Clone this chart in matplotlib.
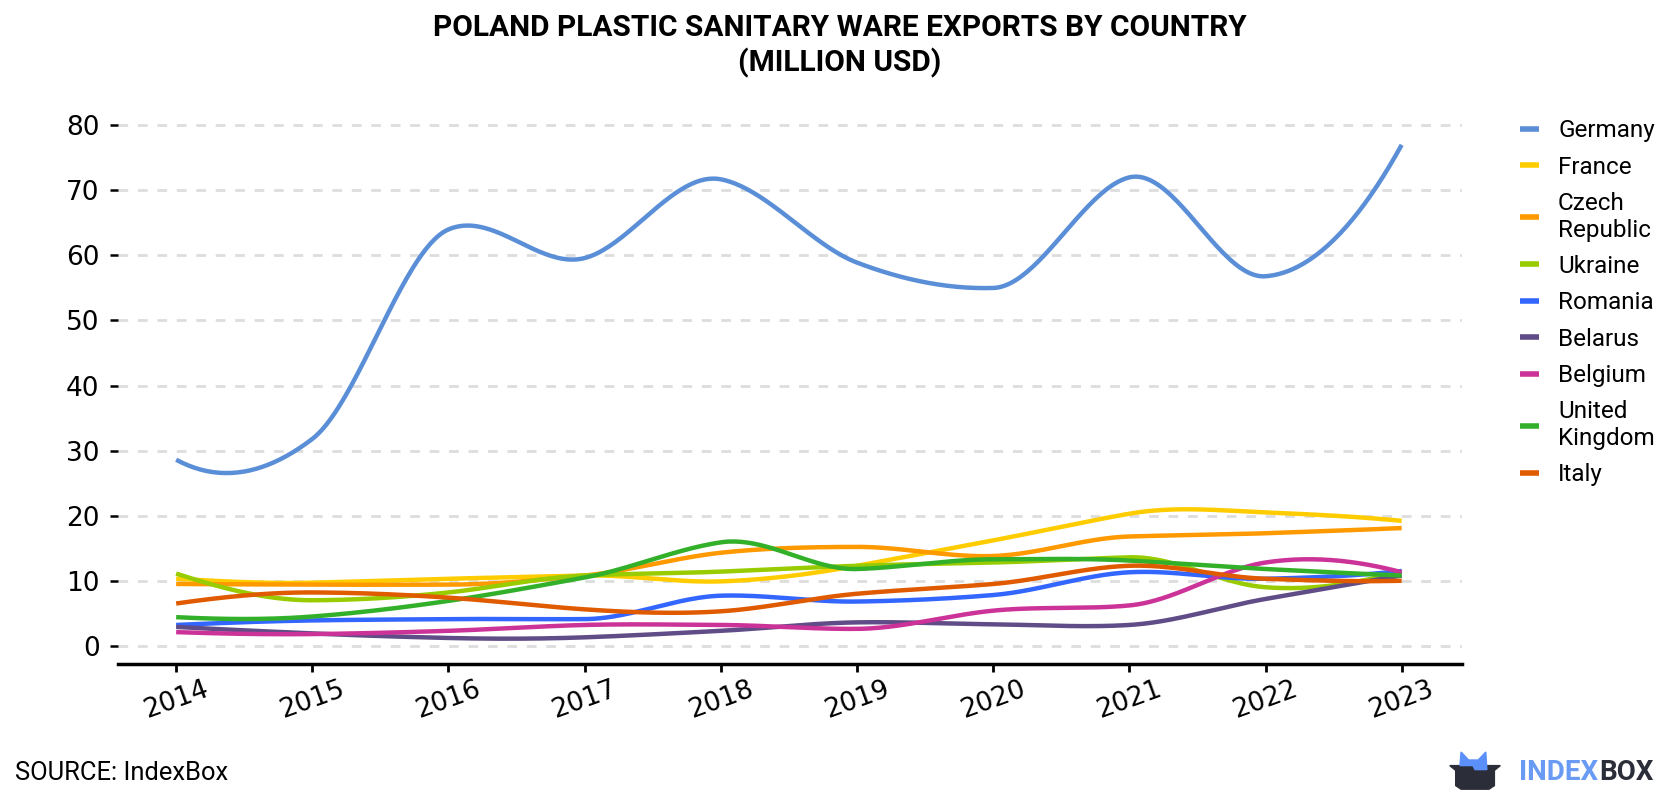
import matplotlib.pyplot as plt
import numpy as np
from matplotlib.patches import Polygon
from matplotlib.lines import Line2D

plt.rcParams['font.family'] = ['Roboto', 'DejaVu Sans']

# data (million USD)
years = [2014, 2015, 2016, 2017, 2018, 2019, 2020, 2021, 2022, 2023]
germany = [28.6, 31.8, 64.0, 59.6, 71.7, 58.9, 55.0, 72.0, 56.8, 77.0]
france = [10.3, 9.7, 10.3, 10.8, 9.9, 12.3, 16.2, 20.3, 20.5, 19.2]
czech = [9.5, 9.4, 9.4, 10.8, 14.3, 15.2, 13.8, 16.8, 17.3, 18.1]
ukraine = [11.1, 7.0, 8.2, 10.8, 11.4, 12.3, 12.8, 13.6, 9.0, 11.5]
romania = [3.2, 3.9, 4.1, 4.1, 7.7, 6.8, 7.8, 11.3, 10.3, 11.5]
belarus = [2.9, 1.9, 1.2, 1.3, 2.3, 3.6, 3.3, 3.2, 7.2, 10.8]
belgium = [2.1, 1.8, 2.3, 3.2, 3.2, 2.6, 5.4, 6.2, 12.8, 11.3]
uk = [4.4, 4.5, 6.9, 10.5, 15.9, 11.8, 13.3, 13.1, 11.8, 10.8]
italy = [6.5, 8.2, 7.4, 5.6, 5.3, 8.0, 9.5, 12.3, 10.3, 10.0]

names = ["Germany", "France", "Czech\nRepublic", "Ukraine", "Romania",
         "Belarus", "Belgium", "United\nKingdom", "Italy"]
series = [germany, france, czech, ukraine, romania, belarus, belgium, uk, italy]
colors = ["#5a8fd8", "#ffcc00", "#ff9900", "#99cc00", "#3366ff",
          "#604c86", "#cc3399", "#33b02a", "#e05a00"]


def smooth(xs, ys, num=400):
    # Akima spline through the yearly points, used only to draw the line
    x = np.asarray(xs, float)
    y = np.asarray(ys, float)
    n = len(x)
    h = np.diff(x)
    m = np.diff(y) / h
    mm = np.empty(n + 3)
    mm[2:n + 1] = m
    mm[1] = 2 * m[0] - m[1]
    mm[0] = 2 * mm[1] - m[0]
    mm[n + 1] = 2 * m[-1] - m[-2]
    mm[n + 2] = 2 * mm[n + 1] - m[-1]
    dm = np.abs(np.diff(mm))
    t = np.empty(n)
    for i in range(n):
        w1, w2 = dm[i + 2], dm[i]
        if w1 + w2 == 0:
            t[i] = 0.5 * (mm[i + 1] + mm[i + 2])
        else:
            t[i] = (w1 * mm[i + 1] + w2 * mm[i + 2]) / (w1 + w2)
    xx = np.linspace(x[0], x[-1], num)
    idx = np.clip(np.searchsorted(x, xx, side='right') - 1, 0, n - 2)
    hi = h[idx]
    s = (xx - x[idx]) / hi
    h00 = 2 * s ** 3 - 3 * s ** 2 + 1
    h10 = s ** 3 - 2 * s ** 2 + s
    h01 = -2 * s ** 3 + 3 * s ** 2
    h11 = s ** 3 - s ** 2
    yy = h00 * y[idx] + h10 * hi * t[idx] + h01 * y[idx + 1] + h11 * hi * t[idx + 1]
    return xx, yy


fig = plt.figure(figsize=(16.8, 8), dpi=100)
ax = fig.add_axes([0.070, 0.17, 0.800, 0.714])

handles = []
for vals, name, col in zip(series, names, colors):
    xx, yy = smooth(years, vals)
    ax.plot(xx, yy, color=col, lw=3.2, solid_capstyle='butt')
    handles.append(Line2D([], [], color=col, lw=4, solid_capstyle='butt', label=name))

ax.set_xlim(2013.57, 2023.44)
ax.set_ylim(-2.8, 85)
ax.set_xticks(years)
ax.set_xticklabels([str(y) for y in years], rotation=20, fontsize=19,
                   family='DejaVu Sans')
ax.set_yticks(range(0, 81, 10))
ax.set_yticklabels([str(v) for v in range(0, 81, 10)], fontsize=19,
                   family='DejaVu Sans')
ax.tick_params(axis='y', length=6, width=1.8, pad=7)
ax.tick_params(axis='x', length=6, width=2, direction='out', pad=3)
ax.grid(axis='y', color='#dddddd', lw=2, ls=(0, (3.5, 3.5)))
ax.set_axisbelow(True)
for s in ['top', 'right', 'left']:
    ax.spines[s].set_visible(False)
ax.spines['bottom'].set_linewidth(2.5)

leg = fig.legend(handles=handles, loc='upper left', bbox_to_anchor=(0.905, 0.851),
                 frameon=False, fontsize=17.5, handlelength=0.75, handletextpad=0.8,
                 labelspacing=0.55, borderpad=0, borderaxespad=0)
for t in leg.get_texts():
    t.set_linespacing(1.2)

fig.text(0.5, 0.982, "POLAND PLASTIC SANITARY WARE EXPORTS BY COUNTRY\n(MILLION USD)",
         ha='center', va='top', fontsize=21.5, fontweight='bold', linespacing=1.25)
fig.text(0.009, 0.034, "SOURCE: IndexBox", fontsize=18.4, ha='left', va='center')

# logo
lax = fig.add_axes([0.862, 0.012, 0.032, 0.05])
lax.set_xlim(0, 10)
lax.set_ylim(0, 10)
lax.axis('off')
lax.add_patch(Polygon([[0.3, 6.2], [9.7, 6.2], [8.6, 5.0], [8.6, 1.2], [7.6, 0.3],
                       [2.4, 0.3], [1.4, 1.2], [1.4, 5.0]], closed=True,
                      color='#2b2d38'))
lax.add_patch(Polygon([[2.2, 6.2], [2.4, 9.6], [3.8, 7.6], [5.6, 7.6], [7.0, 9.6],
                       [7.2, 5.2], [5.0, 5.2], [4.6, 6.2]], closed=True,
                      color='#5b8ff9'))
t1 = fig.text(0.904, 0.034, "INDEX", fontsize=20, fontweight='bold', color='#6a9bf4',
              ha='left', va='center')
r = fig.canvas.get_renderer()
bb = t1.get_window_extent(renderer=r)
fig.text(bb.x1 / fig.bbox.width + 0.001, 0.034, "BOX", fontsize=20, fontweight='bold',
         color='#2b2d38', ha='left', va='center')

fig.savefig('out.png', dpi=100)
